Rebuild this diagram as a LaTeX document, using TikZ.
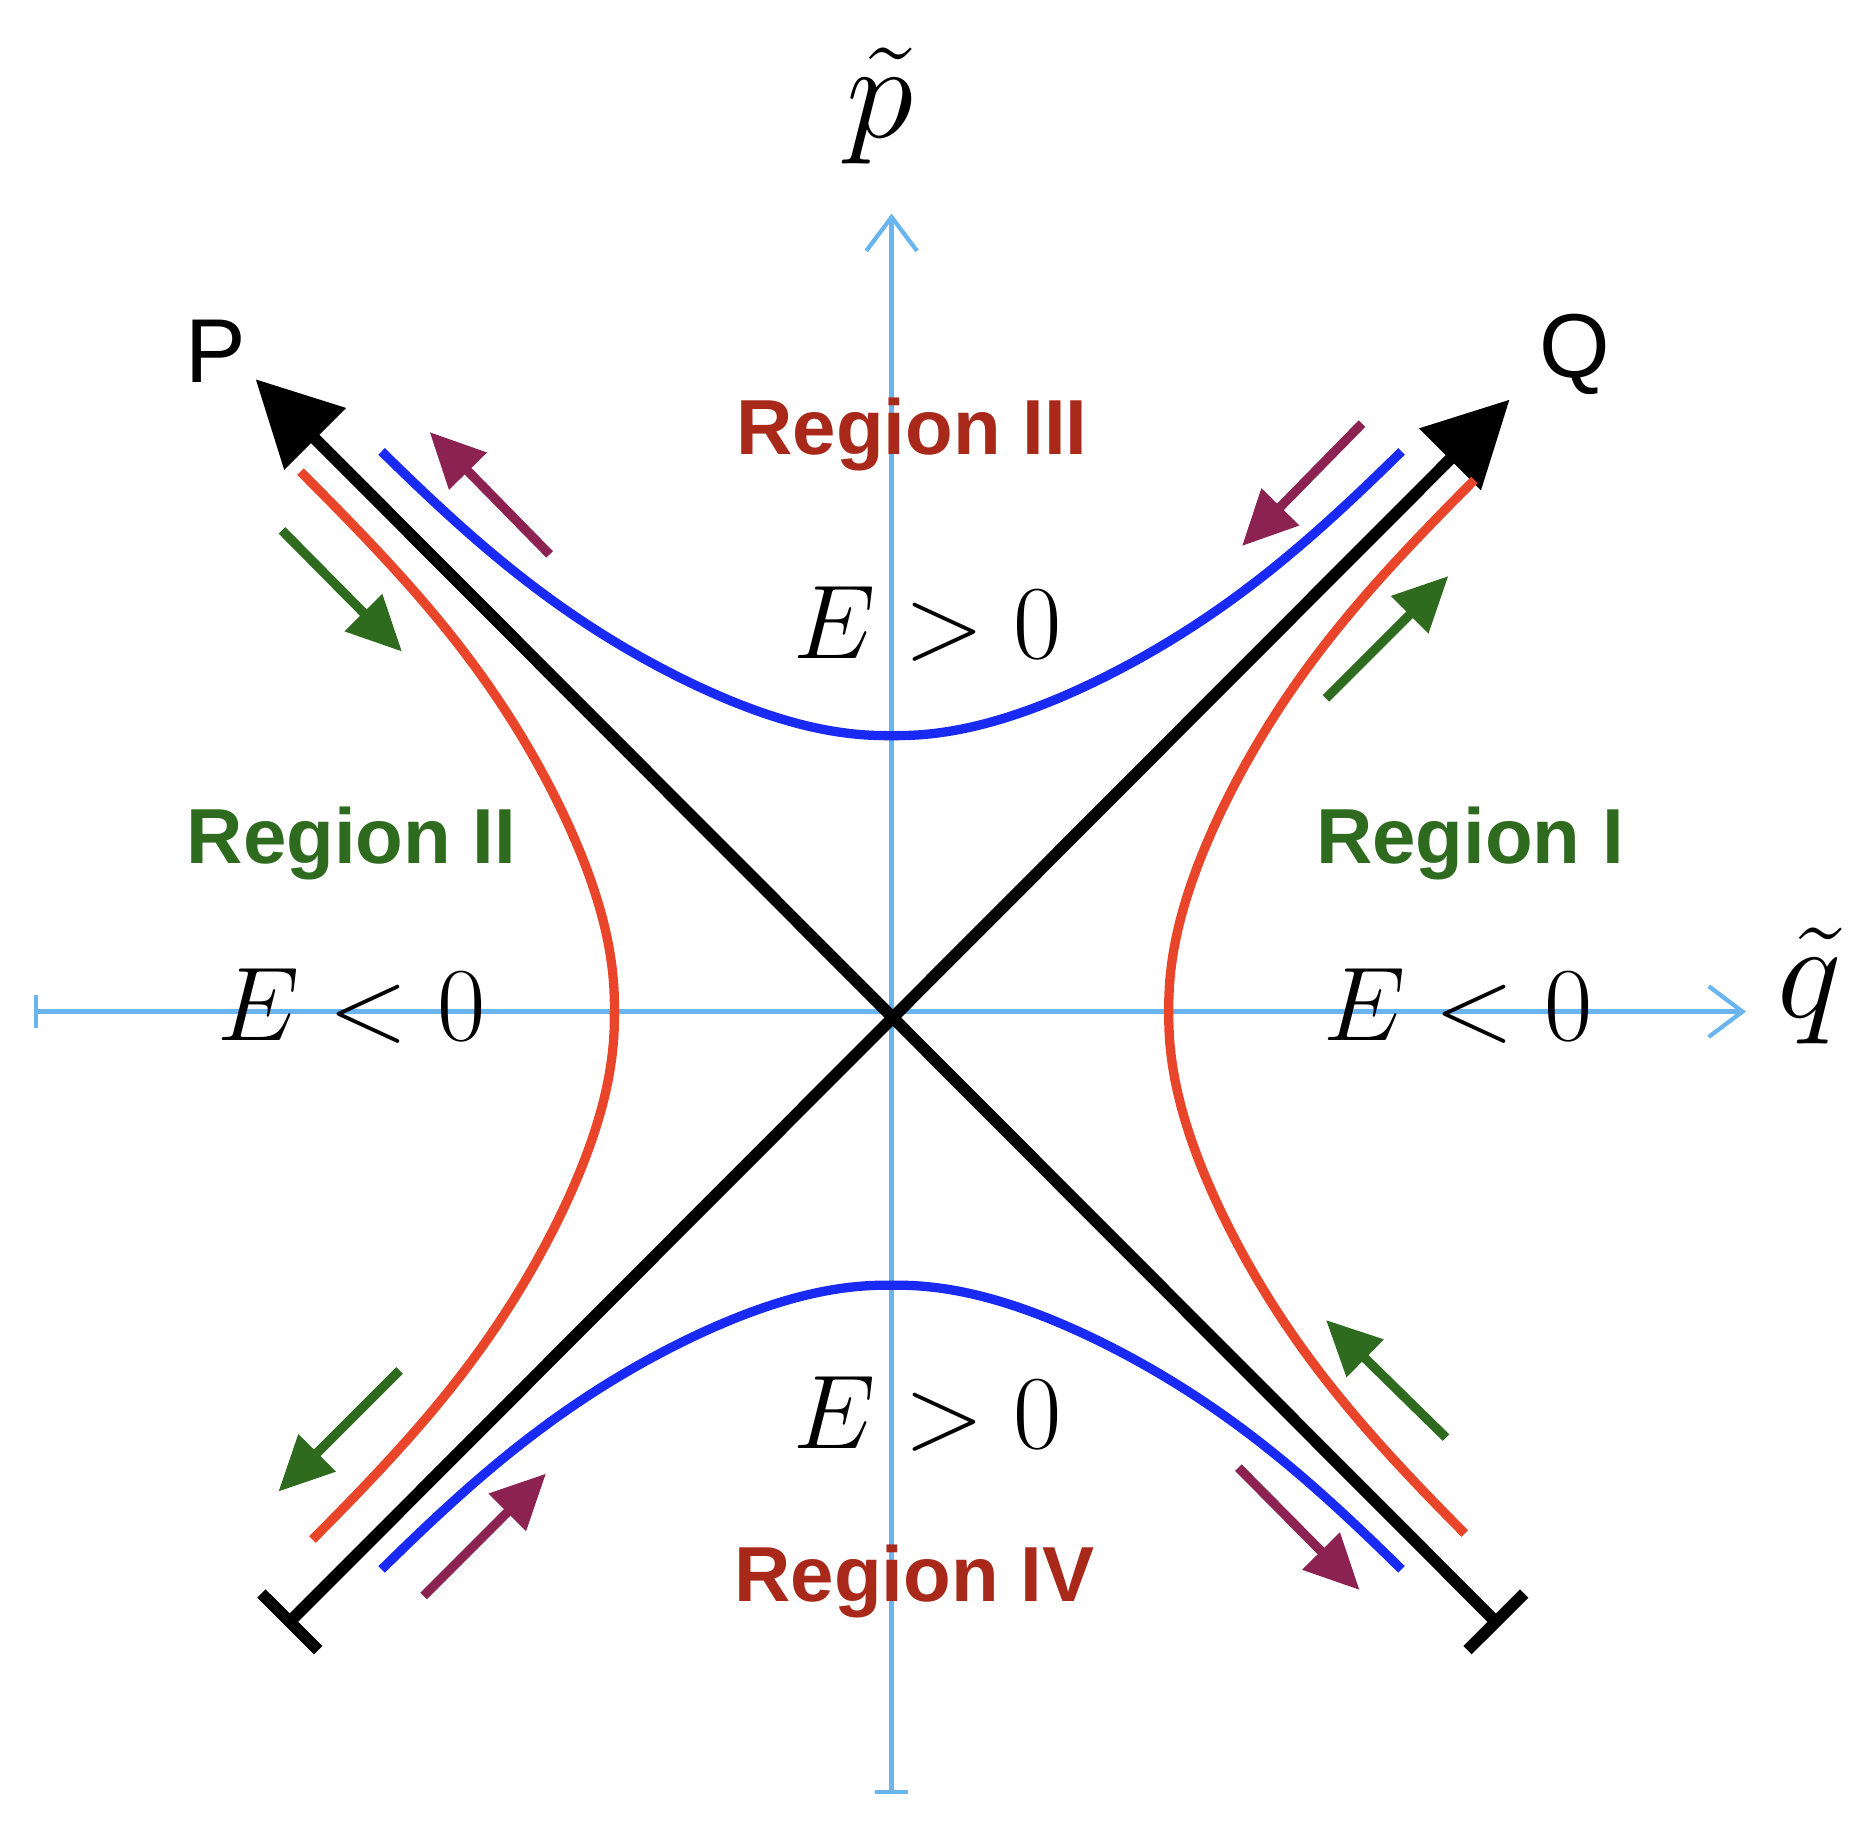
\documentclass[tikz,border=0pt]{standalone}
\usepackage{fontspec}
\setsansfont{Liberation Sans}
\usetikzlibrary{arrows.meta}
\definecolor{axisblue}{HTML}{6AB4F0}
\definecolor{hred}{HTML}{E8452A}
\definecolor{hblue}{HTML}{1A2AF5}
\definecolor{rgreen}{HTML}{2E6B1E}
\definecolor{rpurple}{HTML}{8B2252}
\definecolor{rdred}{HTML}{A8291A}
\tikzset{
  axisline/.style={axisblue,line width=1pt},
  diag/.style={black,line width=2.8pt},
  hyp/.style={line width=2.2pt},
  flow/.style={line width=2.2pt,-{Triangle[length=13pt,width=12pt]}},
  region/.style={font=\sffamily\bfseries\fontsize{18.5}{22}\selectfont},
  energy/.style={font=\fontsize{29}{34}\selectfont},
  lab/.style={font=\sffamily\fontsize{21.5}{26}\selectfont},
  axlab/.style={font=\fontsize{46}{50}\selectfont}
}
\begin{document}
\begin{tikzpicture}[x=0.01cm,y=-0.01cm,
  declare function={hx(\t)=100*(sqrt(2.32*2.32+\t*\t)-0.23*exp(-((abs(\t)-3.2)/1.8)^2));}]
\useasboundingbox (0,0) rectangle (1560,1518);
\coordinate (O) at (743,843);
\coordinate (xl) at (28,843); \coordinate (xr) at (1455,843);
\coordinate (yt) at (743,178); \coordinate (yb) at (743,1495);
\draw[axisline,{Bar[width=8pt]}-{Straight Barb[length=8pt,width=12pt]}] (xl) -- (xr);
\draw[axisline,{Straight Barb[length=8pt,width=12pt]}-{Bar[width=8pt]}] (yt) -- (yb);
% diagonals
\coordinate (Ptip) at (213,316); \coordinate (Pend) at (1250,1355);
\coordinate (Qtip) at (1258,333); \coordinate (Qend) at (238,1355);
\draw[diag,{Bar[width=19pt]}-{Triangle[length=20pt,width=20pt]}] (Pend) -- (Ptip);
\draw[diag,{Bar[width=19pt]}-{Triangle[length=20pt,width=20pt]}] (Qend) -- (Qtip);
% hyperbolas
\begin{scope}[shift={(O)}]
\draw[hyp,hred] plot[domain=-4.43:4.35,samples=80,smooth] ({hx(\x)},{100*\x});
\draw[hyp,hred] plot[domain=-4.5:4.4,samples=80,smooth] ({-hx(\x)},{100*\x});
\draw[hyp,hblue] plot[domain=-4.25:4.25,samples=80,smooth] ({100*\x},{-hx(\x)+1});
\draw[hyp,hblue] plot[domain=-4.25:4.25,samples=80,smooth] ({100*\x},{hx(\x)-3});
\end{scope}
% flow arrows
\coordinate (g1a) at (235,442); \coordinate (g1b) at (335,543);
\coordinate (p1a) at (458,462); \coordinate (p1b) at (358,360);
\coordinate (p2a) at (1135,353); \coordinate (p2b) at (1035,455);
\coordinate (g2a) at (1105,582); \coordinate (g2b) at (1207,480);
\coordinate (g3a) at (1205,1198); \coordinate (g3b) at (1105,1100);
\coordinate (p3a) at (1032,1223); \coordinate (p3b) at (1133,1325);
\coordinate (g4a) at (333,1142); \coordinate (g4b) at (232,1243);
\coordinate (p4a) at (353,1330); \coordinate (p4b) at (455,1228);
\draw[flow,rgreen] (g1a) -- (g1b);
\draw[flow,rgreen] (g2a) -- (g2b);
\draw[flow,rgreen] (g3a) -- (g3b);
\draw[flow,rgreen] (g4a) -- (g4b);
\draw[flow,rpurple] (p1a) -- (p1b);
\draw[flow,rpurple] (p2a) -- (p2b);
\draw[flow,rpurple] (p3a) -- (p3b);
\draw[flow,rpurple] (p4a) -- (p4b);
% labels
\node[region,rdred] (r3) at (760,362) {Region III};
\node[region,rdred] (r4) at (762,1318) {Region IV};
\node[region,rgreen] (r2) at (293,703) {Region II};
\node[region,rgreen] (r1) at (1225,703) {Region I};
\node[energy] (e3) at (773,520) {$E>0$};
\node[energy] (e4) at (773,1178) {$E>0$};
\node[energy] (e2) at (293,838) {$E<0$};
\node[energy] (e1) at (1215,838) {$E<0$};
\node[axlab] (pt) at (733,88) {\scalebox{1.3}{$\tilde p$}};
\node[axlab] (qt) at (1508,822) {\scalebox{1.3}{$\tilde q$}};
\node[lab] (P) at (180,293) {P};
\node[lab] (Q) at (1312,295) {Q};
\end{tikzpicture}
\end{document}
